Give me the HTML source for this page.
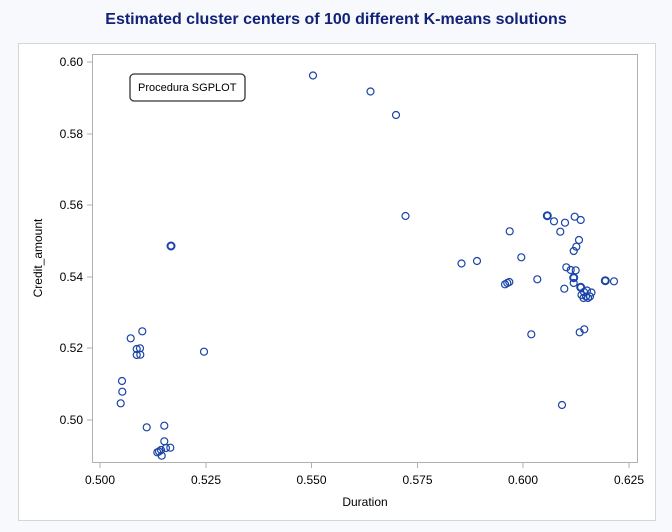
<!DOCTYPE html>
<html><head><style>
body{margin:0;background:#f8f9fd;}
svg{display:block;font-family:"Liberation Sans",sans-serif;}
</style></head><body>
<svg width="672" height="532" xmlns="http://www.w3.org/2000/svg">
<rect x="0" y="0" width="672" height="532" fill="#f8f9fd"/>
<rect x="18.5" y="43.5" width="637" height="477" fill="#fff" stroke="#d6d6d6"/>
<text x="336" y="24" text-anchor="middle" font-size="16" font-weight="bold" fill="#112277">Estimated cluster centers of 100 different K-means solutions</text>
<rect x="92.5" y="54.5" width="545" height="408" fill="#fff" stroke="#b0b0b0"/>
<g stroke="#b0b0b0">
<line x1="87" y1="62" x2="92" y2="62"/><line x1="87" y1="134" x2="92" y2="134"/><line x1="87" y1="205" x2="92" y2="205"/><line x1="87" y1="277" x2="92" y2="277"/><line x1="87" y1="348" x2="92" y2="348"/><line x1="87" y1="420" x2="92" y2="420"/>
<line x1="100" y1="463" x2="100" y2="468"/><line x1="206" y1="463" x2="206" y2="468"/><line x1="311.5" y1="463" x2="311.5" y2="468"/><line x1="417.5" y1="463" x2="417.5" y2="468"/><line x1="523" y1="463" x2="523" y2="468"/><line x1="629" y1="463" x2="629" y2="468"/>
</g>
<g font-size="12" fill="#000" text-anchor="end">
<text x="83" y="66">0.60</text><text x="83" y="138">0.58</text><text x="83" y="209">0.56</text><text x="83" y="281">0.54</text><text x="83" y="352">0.52</text><text x="83" y="424">0.50</text>
</g>
<g font-size="12" fill="#000" text-anchor="middle">
<text x="100" y="484">0.500</text><text x="206" y="484">0.525</text><text x="311.5" y="484">0.550</text><text x="417.5" y="484">0.575</text><text x="523" y="484">0.600</text><text x="629" y="484">0.625</text>
<text x="365" y="506" font-size="12">Duration</text>
</g>
<text x="42" y="258" font-size="12" text-anchor="middle" transform="rotate(-90 42 258)">Credit_amount</text>
<rect x="130" y="74" width="115" height="27" rx="4" fill="#fff" stroke="#333" stroke-width="1.3"/>
<text x="138" y="91" font-size="11" fill="#000">Procedura SGPLOT</text>
<g fill="none" stroke="#1a44a8" stroke-width="1.2">
<circle cx="142.3" cy="331.3" r="3.5"/><circle cx="130.7" cy="338.3" r="3.5"/><circle cx="136.7" cy="349" r="3.5"/><circle cx="140" cy="348.3" r="3.5"/><circle cx="136.7" cy="355" r="3.5"/><circle cx="140.3" cy="354.7" r="3.5"/><circle cx="204" cy="351.7" r="3.5"/>
<circle cx="122" cy="381" r="3.5"/><circle cx="122.3" cy="391.7" r="3.5"/><circle cx="120.7" cy="403.3" r="3.5"/><circle cx="146.7" cy="427.3" r="3.5"/><circle cx="164.3" cy="425.7" r="3.5"/><circle cx="164.3" cy="441.3" r="3.5"/>
<circle cx="157.3" cy="452.3" r="3.5"/><circle cx="159" cy="451.5" r="3.5"/><circle cx="161" cy="450" r="3.5"/><circle cx="166" cy="448" r="3.5"/><circle cx="170.3" cy="447.7" r="3.5"/><circle cx="161.7" cy="455.7" r="3.5"/>
<circle cx="171" cy="246" r="3.5" stroke-width="2"/>
<circle cx="370.5" cy="91.5" r="3.5"/><circle cx="396" cy="115" r="3.5"/><circle cx="313" cy="75.5" r="3.5"/><circle cx="405.5" cy="216" r="3.5"/>
<circle cx="461.5" cy="263.5" r="3.5"/><circle cx="477" cy="261" r="3.5"/>
<circle cx="547.3" cy="215.7" r="3.5" stroke-width="2"/><circle cx="554" cy="221.3" r="3.5"/><circle cx="565" cy="222.7" r="3.5"/><circle cx="574.7" cy="216.7" r="3.5"/><circle cx="580.7" cy="220" r="3.5"/><circle cx="560.3" cy="231.7" r="3.5"/><circle cx="509.7" cy="231.3" r="3.5"/>
<circle cx="579" cy="240" r="3.5"/><circle cx="576.3" cy="246.7" r="3.5"/><circle cx="573.7" cy="251" r="3.5"/><circle cx="521.3" cy="257.3" r="3.5"/><circle cx="566.3" cy="267.3" r="3.5"/><circle cx="570.7" cy="270" r="3.5"/><circle cx="575.7" cy="270.3" r="3.5"/>
<circle cx="573.7" cy="277.7" r="3.5" stroke-width="2"/><circle cx="573.7" cy="283" r="3.5"/><circle cx="537.3" cy="279.3" r="3.5"/><circle cx="505" cy="284.3" r="3.5"/><circle cx="507.3" cy="283" r="3.5"/><circle cx="509.3" cy="282" r="3.5"/>
<circle cx="564.3" cy="288.7" r="3.5"/><circle cx="580.7" cy="287.3" r="3.5" stroke-width="2"/><circle cx="605.3" cy="280.7" r="3.5" stroke-width="2"/><circle cx="614" cy="281.3" r="3.5"/>
<circle cx="581.5" cy="295" r="3.5"/><circle cx="586" cy="296.5" r="3.5"/><circle cx="590" cy="296.5" r="3.5"/><circle cx="587" cy="290.5" r="3.5"/><circle cx="591.5" cy="292.5" r="3.5"/><circle cx="583.5" cy="298" r="3.5"/><circle cx="588" cy="298" r="3.5"/><circle cx="584" cy="292" r="3.5"/>
<circle cx="531.3" cy="334.3" r="3.5"/><circle cx="579.7" cy="332.3" r="3.5"/><circle cx="584.3" cy="329.3" r="3.5"/><circle cx="562" cy="405" r="3.5"/>
</g>
</svg>
</body></html>
